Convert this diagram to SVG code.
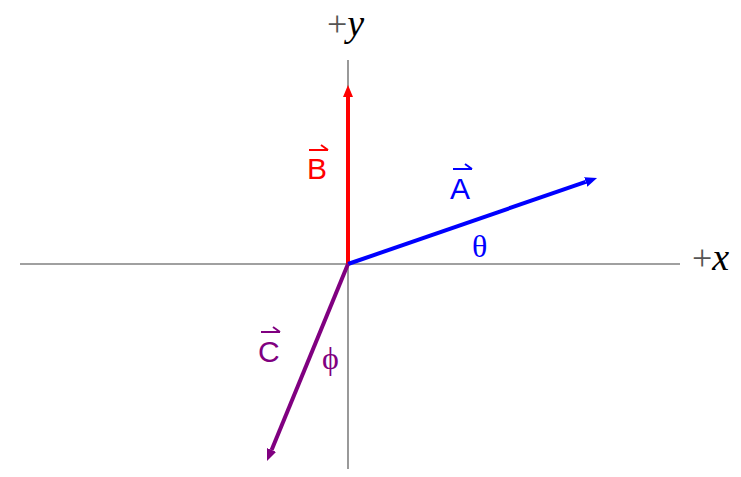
<svg xmlns="http://www.w3.org/2000/svg" width="741" height="477" viewBox="0 0 741 477">
<style>
.axis{stroke:#808080;stroke-width:1.6;fill:none}
.vec{stroke-width:4;fill:none}
.lbl{font-family:"Liberation Sans",Arial,sans-serif;font-size:30px}
.greek{font-family:"Liberation Serif","Times New Roman",serif;font-size:32px}
.ax{font-family:"Liberation Serif","Times New Roman",serif;font-size:38px;fill:#000}
.plus{fill:#555;font-size:36px}
.ov{stroke-width:2;fill:none}
</style>
<defs>
<marker id="mr" markerUnits="userSpaceOnUse" markerWidth="14" markerHeight="12" refX="0" refY="5" orient="auto"><path d="M0,0 L12,5 L0,10 z" fill="#ff0000"/></marker>
<marker id="mb" markerUnits="userSpaceOnUse" markerWidth="14" markerHeight="12" refX="0" refY="5" orient="auto"><path d="M0,0 L12,5 L0,10 z" fill="#0000ff"/></marker>
<marker id="mp" markerUnits="userSpaceOnUse" markerWidth="14" markerHeight="12" refX="0" refY="5" orient="auto"><path d="M0,0 L12,5 L0,10 z" fill="#800080"/></marker>
</defs>
<g id="axes">
<line class="axis" x1="20" y1="264" x2="680" y2="264"/>
<line class="axis" x1="348" y1="60" x2="348" y2="469"/>
<text class="ax" x="327" y="36"><tspan class="plus">+</tspan><tspan font-style="italic">y</tspan></text>
<text class="ax" x="692" y="270"><tspan class="plus">+</tspan><tspan font-style="italic">x</tspan></text>
</g>
<g id="connectors">
<line class="vec" stroke="#ff0000" x1="348" y1="264" x2="348" y2="97" marker-end="url(#mr)"/>
<line class="vec" stroke="#0000ff" x1="348" y1="264" x2="585.7" y2="181.9" marker-end="url(#mb)"/>
<line class="vec" stroke="#800080" x1="348" y1="264" x2="271.6" y2="449.9" marker-end="url(#mp)"/>
</g>
<g id="labelB">
<text class="lbl" x="307" y="179" fill="#ff0000">B</text>
<path class="ov" stroke="#ff0000" d="M309,150 H328 M321,145 L328,150"/>
</g>
<g id="labelA">
<text class="lbl" x="450" y="199" fill="#0000ff">A</text>
<path class="ov" stroke="#0000ff" d="M453,169 H472 M465,164 L472,169"/>
<text class="greek" x="472" y="257" fill="#0000ff">θ</text>
</g>
<g id="labelC">
<text class="lbl" x="258" y="362" fill="#800080">C</text>
<path class="ov" stroke="#800080" d="M261,332 H280 M273,327 L280,332"/>
<text class="greek" x="322" y="369" fill="#800080">ϕ</text>
</g>
</svg>
